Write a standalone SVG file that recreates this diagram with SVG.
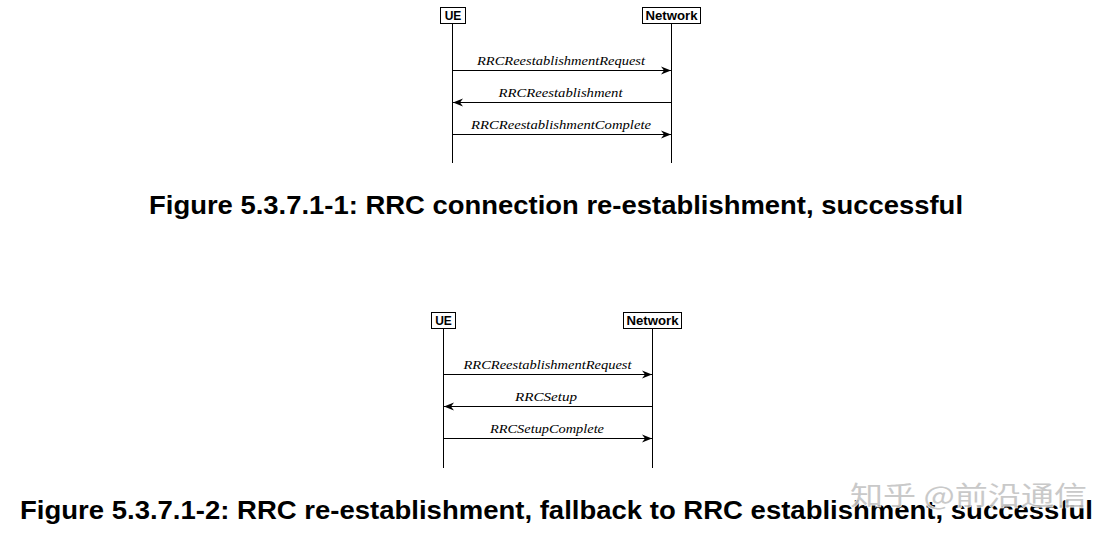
<svg xmlns="http://www.w3.org/2000/svg" width="1116" height="547" viewBox="0 0 1116 547">
<style>
.box{fill:#fff;stroke:#000;stroke-width:1}
.bt{font-family:"Liberation Sans",Arial,sans-serif;font-weight:bold;font-size:12px;fill:#000;text-anchor:middle}
.life{stroke:#000;stroke-width:1}
.msg{stroke:#000;stroke-width:1;fill:none}
.ml{font-family:"Liberation Serif","Times New Roman",serif;font-style:italic;font-size:13px;fill:#000}
.title{font-family:"Liberation Sans",Arial,sans-serif;font-weight:bold;font-size:26px;fill:#000}
.wm{font-family:"Noto Sans CJK SC",sans-serif;font-size:26px;fill:#c4c4c4;stroke:#fff;stroke-width:1.5;paint-order:stroke;opacity:0.9}
</style>
<defs>
<marker id="ah" markerWidth="11" markerHeight="9" refX="10" refY="4.5" orient="auto" markerUnits="userSpaceOnUse">
<path d="M0,0.5 L10,4.5 L0,8.5 L3,4.5 Z" fill="#000"/>
</marker>
</defs>
<rect width="1116" height="547" fill="#fff"/>

<g id="fig1-ue">
<rect class="box" x="440.5" y="7.5" width="25" height="16"/>
<text class="bt" x="453" y="20">UE</text>
<line class="life" x1="452.5" y1="24" x2="452.5" y2="163"/>
</g>
<g id="fig1-network">
<rect class="box" x="642.5" y="7.5" width="58" height="16"/>
<text class="bt" x="671.5" y="20" textLength="52" lengthAdjust="spacingAndGlyphs">Network</text>
<line class="life" x1="671.5" y1="24" x2="671.5" y2="163"/>
</g>
<g id="fig1-connectors">
<line class="msg" x1="452.5" y1="70.5" x2="671" y2="70.5" marker-end="url(#ah)"/>
<text class="ml" x="477" y="65" textLength="168" lengthAdjust="spacingAndGlyphs">RRCReestablishmentRequest</text>
<line class="msg" x1="671.5" y1="102.5" x2="453" y2="102.5" marker-end="url(#ah)"/>
<text class="ml" x="498.5" y="97" textLength="124" lengthAdjust="spacingAndGlyphs">RRCReestablishment</text>
<line class="msg" x1="452.5" y1="134.5" x2="671" y2="134.5" marker-end="url(#ah)"/>
<text class="ml" x="471" y="129" textLength="180" lengthAdjust="spacingAndGlyphs">RRCReestablishmentComplete</text>
</g>
<text class="title" x="149" y="214" textLength="814" lengthAdjust="spacingAndGlyphs">Figure 5.3.7.1-1: RRC connection re-establishment, successful</text>

<g id="fig2-ue">
<rect class="box" x="431.5" y="312.5" width="24" height="16"/>
<text class="bt" x="443.5" y="325">UE</text>
<line class="life" x1="443.5" y1="329" x2="443.5" y2="468"/>
</g>
<g id="fig2-network">
<rect class="box" x="623.5" y="312.5" width="58" height="16"/>
<text class="bt" x="652.5" y="325" textLength="52" lengthAdjust="spacingAndGlyphs">Network</text>
<line class="life" x1="652.5" y1="329" x2="652.5" y2="468"/>
</g>
<g id="fig2-connectors">
<line class="msg" x1="443.5" y1="374.5" x2="652" y2="374.5" marker-end="url(#ah)"/>
<text class="ml" x="463.5" y="369" textLength="168" lengthAdjust="spacingAndGlyphs">RRCReestablishmentRequest</text>
<line class="msg" x1="652.5" y1="406.5" x2="444" y2="406.5" marker-end="url(#ah)"/>
<text class="ml" x="515" y="401" textLength="62" lengthAdjust="spacingAndGlyphs">RRCSetup</text>
<line class="msg" x1="443.5" y1="438.5" x2="652" y2="438.5" marker-end="url(#ah)"/>
<text class="ml" x="490" y="433" textLength="114" lengthAdjust="spacingAndGlyphs">RRCSetupComplete</text>
</g>
<text class="title" x="20" y="519" textLength="1073" lengthAdjust="spacingAndGlyphs">Figure 5.3.7.1-2: RRC re-establishment, fallback to RRC establishment, successful</text>
<text class="wm" x="850" y="505" textLength="237" lengthAdjust="spacingAndGlyphs">知乎 @前沿通信</text>
</svg>
